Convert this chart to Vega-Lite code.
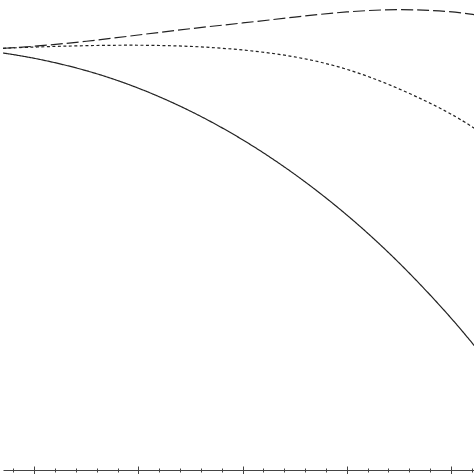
{
  "$schema": "https://vega.github.io/schema/vega-lite/v6.json",
  "width": 474,
  "height": 470,
  "padding": 0,
  "autosize": "pad",
  "config": {"view": {"stroke": null}},
  "data": {
    "values": [
      {"x": 0.7, "y": 1.0049, "series": "A"},
      {"x": 1.0, "y": 1.0092, "series": "A"},
      {"x": 1.5, "y": 1.0211, "series": "A"},
      {"x": 2.0, "y": 1.0366, "series": "A"},
      {"x": 2.5, "y": 1.0521, "series": "A"},
      {"x": 3.0, "y": 1.0650, "series": "A"},
      {"x": 3.5, "y": 1.0795, "series": "A"},
      {"x": 4.0, "y": 1.0926, "series": "A"},
      {"x": 4.5, "y": 1.0990, "series": "A"},
      {"x": 5.0, "y": 1.0930, "series": "A"},
      {"x": 5.25, "y": 1.0843, "series": "A"},
      {"x": 0.7, "y": 1.0049, "series": "B"},
      {"x": 1.0, "y": 1.0080, "series": "B"},
      {"x": 1.5, "y": 1.0116, "series": "B"},
      {"x": 2.0, "y": 1.0128, "series": "B"},
      {"x": 2.5, "y": 1.0104, "series": "B"},
      {"x": 3.0, "y": 1.0021, "series": "B"},
      {"x": 3.5, "y": 0.9866, "series": "B"},
      {"x": 4.0, "y": 0.9580, "series": "B"},
      {"x": 4.5, "y": 0.9103, "series": "B"},
      {"x": 5.0, "y": 0.8507, "series": "B"},
      {"x": 5.25, "y": 0.8102, "series": "B"},
      {"x": 0.7, "y": 0.9937, "series": "C"},
      {"x": 1.0, "y": 0.9823, "series": "C"},
      {"x": 1.5, "y": 0.9537, "series": "C"},
      {"x": 2.0, "y": 0.9120, "series": "C"},
      {"x": 2.5, "y": 0.8572, "series": "C"},
      {"x": 3.0, "y": 0.7893, "series": "C"},
      {"x": 3.5, "y": 0.7071, "series": "C"},
      {"x": 4.0, "y": 0.6105, "series": "C"},
      {"x": 4.5, "y": 0.4973, "series": "C"},
      {"x": 5.0, "y": 0.3646, "series": "C"},
      {"x": 5.25, "y": 0.2883, "series": "C"}
    ]
  },
  "encoding": {
    "y": {
      "field": "y",
      "type": "quantitative",
      "scale": {"domain": [0, 1.12], "nice": false, "zero": false},
      "axis": null
    },
    "strokeDash": {
      "field": "series",
      "type": "nominal",
      "scale": {"domain": ["A", "B", "C"], "range": [[12, 4], [3, 2.5], [1, 0]]},
      "legend": null
    }
  },
  "layer": [
    {
      "mark": {"type": "line", "interpolate": "basis", "color": "#222", "strokeWidth": 1.2},
      "encoding": {
        "x": {
          "field": "x",
          "type": "quantitative",
          "scale": {"domain": [0.7, 5.25], "nice": false, "zero": false},
          "axis": {
            "orient": "bottom",
            "title": null,
            "labels": false,
            "grid": false,
            "domainColor": "#444",
            "domainWidth": 1.2,
            "tickColor": "#444",
            "tickWidth": 1,
            "values": [0.8, 1, 1.2, 1.4, 1.6, 1.8, 2, 2.2, 2.4, 2.6, 2.8, 3, 3.2, 3.4, 3.6, 3.8, 4, 4.2, 4.4, 4.6, 4.8, 5, 5.2],
            "tickSize": {"condition": {"test": "abs(datum.value - round(datum.value)) < 0.01", "value": 4}, "value": 2}
          }
        }
      }
    },
    {
      "mark": {"type": "line", "opacity": 0},
      "encoding": {
        "x": {
          "field": "x",
          "type": "quantitative",
          "axis": {
            "orient": "bottom",
            "title": null,
            "labels": false,
            "grid": false,
            "domain": false,
            "tickColor": "#444",
            "tickWidth": 1,
            "values": [0.8, 1, 1.2, 1.4, 1.6, 1.8, 2, 2.2, 2.4, 2.6, 2.8, 3, 3.2, 3.4, 3.6, 3.8, 4, 4.2, 4.4, 4.6, 4.8, 5, 5.2],
            "tickSize": {"condition": {"test": "abs(datum.value - round(datum.value)) < 0.01", "value": -4}, "value": -2}
          }
        }
      }
    }
  ],
  "resolve": {"axis": {"x": "independent"}}
}
